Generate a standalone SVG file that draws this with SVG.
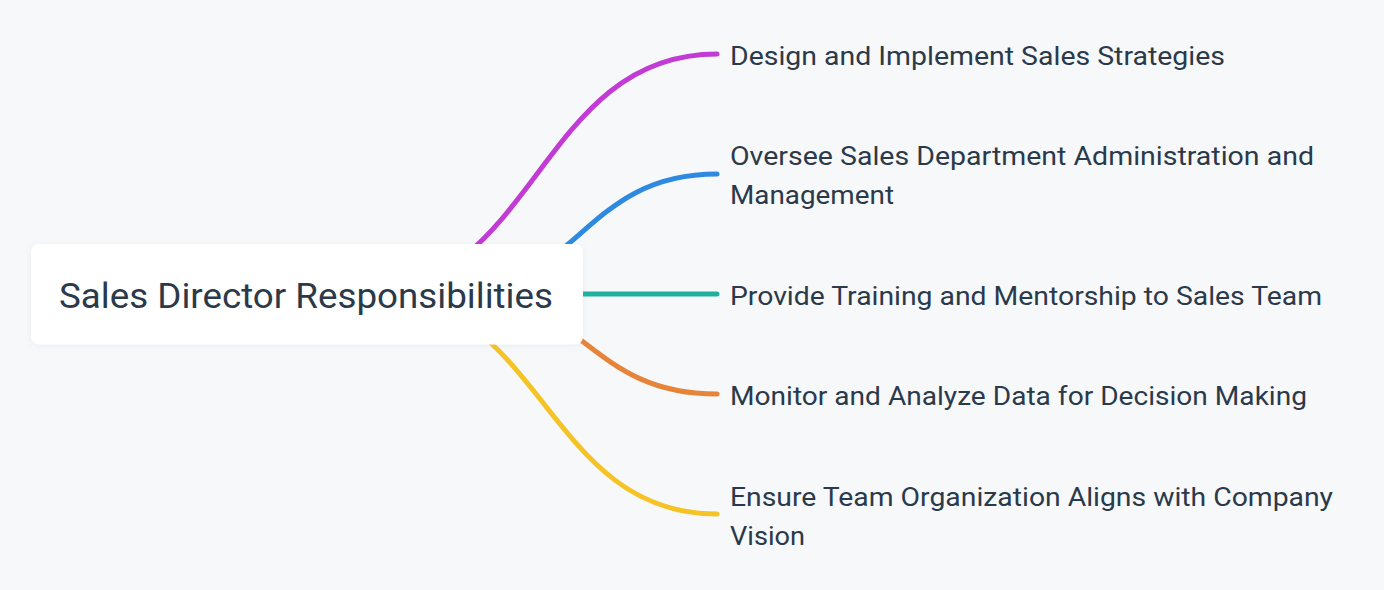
<svg xmlns="http://www.w3.org/2000/svg" width="1384" height="590" viewBox="0 0 1384 590">
  <defs>
    <style>
      .conn { fill: none; stroke-width: 5; stroke-linecap: round; }
      .label { font-family: Roboto, "Liberation Sans", sans-serif; font-size: 26px; fill: #2b3a4a; }
      .root-text { font-family: Roboto, "Liberation Sans", sans-serif; font-size: 35px; fill: #2b3a4a; }
    </style>
    <filter id="shadow" x="-10%" y="-20%" width="120%" height="140%">
      <feDropShadow dx="0" dy="1" stdDeviation="3" flood-color="#8090a0" flood-opacity="0.12"/>
    </filter>
  </defs>
  <rect width="1384" height="590" fill="#f7f8fa"/>
  <g id="connectors">
    <path class="conn" stroke="#c23bd4" d="M357,294 C537,294 537,54 717,54"/>
    <path class="conn" stroke="#2d8ae0" d="M442,294 C580,294 580,174 717,174"/>
    <path class="conn" stroke="#1fb19d" d="M560,294 L717,294"/>
    <path class="conn" stroke="#e6843a" d="M455,294 C586,294 586,394 717,394"/>
    <path class="conn" stroke="#f6c326" d="M371,294 C544,294 544,514 717,514"/>
  </g>
  <g id="root">
    <rect x="31" y="244" width="552" height="100.5" rx="8" fill="#ffffff" filter="url(#shadow)"/>
    <text class="root-text" x="59" y="308" textLength="494" lengthAdjust="spacingAndGlyphs">Sales Director Responsibilities</text>
  </g>
  <g id="node-1">
    <text class="label" x="730" y="65" textLength="495" lengthAdjust="spacingAndGlyphs">Design and Implement Sales Strategies</text>
  </g>
  <g id="node-2">
    <text class="label" x="730" y="165" textLength="584" lengthAdjust="spacingAndGlyphs">Oversee Sales Department Administration and</text>
    <text class="label" x="730" y="204" textLength="164" lengthAdjust="spacingAndGlyphs">Management</text>
  </g>
  <g id="node-3">
    <text class="label" x="730" y="305" textLength="592" lengthAdjust="spacingAndGlyphs">Provide Training and Mentorship to Sales Team</text>
  </g>
  <g id="node-4">
    <text class="label" x="730" y="405" textLength="577" lengthAdjust="spacingAndGlyphs">Monitor and Analyze Data for Decision Making</text>
  </g>
  <g id="node-5">
    <text class="label" x="730" y="506" textLength="603" lengthAdjust="spacingAndGlyphs">Ensure Team Organization Aligns with Company</text>
    <text class="label" x="730" y="545" textLength="75" lengthAdjust="spacingAndGlyphs">Vision</text>
  </g>
</svg>
